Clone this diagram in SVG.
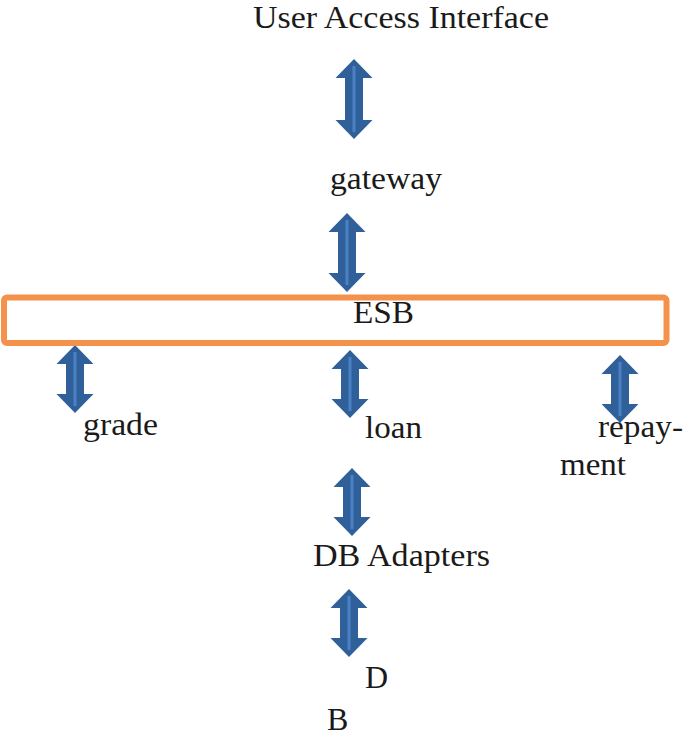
<svg xmlns="http://www.w3.org/2000/svg" width="685" height="741" viewBox="0 0 685 741">
<style>
.arr{fill:#30609A}
.stripe{stroke:#4A80C4;stroke-width:3;fill:none}
.esb{fill:none;stroke:#F4914B;stroke-width:6}
</style>
<rect width="685" height="741" fill="#fff"/>
<g id="connectors">
<path class="arr" d="M354,59 L372.5,78 L363,78 L363,120 L372.5,120 L354,139 L335.5,120 L345,120 L345,78 L335.5,78 Z"/>
<line class="stripe" x1="354" y1="66" x2="354" y2="132"/>
<path class="arr" d="M347,213 L365.5,232 L356,232 L356,273 L365.5,273 L347,292 L328.5,273 L338,273 L338,232 L328.5,232 Z"/>
<line class="stripe" x1="347" y1="220" x2="347" y2="285"/>
<path class="arr" d="M350,350 L368.5,369 L359,369 L359,399 L368.5,399 L350,418 L331.5,399 L341,399 L341,369 L331.5,369 Z"/>
<line class="stripe" x1="350" y1="357" x2="350" y2="411"/>
<path class="arr" d="M75,345 L93.5,364 L84,364 L84,394 L93.5,394 L75,413 L56.5,394 L66,394 L66,364 L56.5,364 Z"/>
<line class="stripe" x1="75" y1="352" x2="75" y2="406"/>
<path class="arr" d="M620,355 L638.5,374 L629,374 L629,404 L638.5,404 L620,423 L601.5,404 L611,404 L611,374 L601.5,374 Z"/>
<line class="stripe" x1="620" y1="362" x2="620" y2="416"/>
<path class="arr" d="M352,468 L370.5,487 L361,487 L361,517 L370.5,517 L352,536 L333.5,517 L343,517 L343,487 L333.5,487 Z"/>
<line class="stripe" x1="352" y1="475" x2="352" y2="529"/>
<path class="arr" d="M349,589 L367.5,608 L358,608 L358,638 L367.5,638 L349,657 L330.5,638 L340,638 L340,608 L330.5,608 Z"/>
<line class="stripe" x1="349" y1="596" x2="349" y2="650"/>
</g>
<g font-family="'Liberation Serif', serif" font-size="32" fill="#1a1a1a">
<g id="user-access-interface"><text x="253" y="28" textLength="296" lengthAdjust="spacingAndGlyphs">User Access Interface</text></g>
<g id="gateway"><text x="330" y="189" textLength="112" lengthAdjust="spacingAndGlyphs">gateway</text></g>
<g id="esb"><rect class="esb" x="4" y="297.5" width="662.5" height="45.5" rx="3"/><text x="353" y="323" textLength="61" lengthAdjust="spacingAndGlyphs">ESB</text></g>
<g id="grade"><text x="83" y="435" textLength="75" lengthAdjust="spacingAndGlyphs">grade</text></g>
<g id="loan"><text x="365" y="438" textLength="57" lengthAdjust="spacingAndGlyphs">loan</text></g>
<g id="repayment"><text x="598" y="437" textLength="85" lengthAdjust="spacingAndGlyphs">repay-</text><text x="560" y="475" textLength="66" lengthAdjust="spacingAndGlyphs">ment</text></g>
<g id="db-adapters"><text x="313" y="566" textLength="177" lengthAdjust="spacingAndGlyphs">DB Adapters</text></g>
<g id="db"><text x="365" y="688">D</text><text x="327" y="730">B</text></g>
</g>
</svg>
